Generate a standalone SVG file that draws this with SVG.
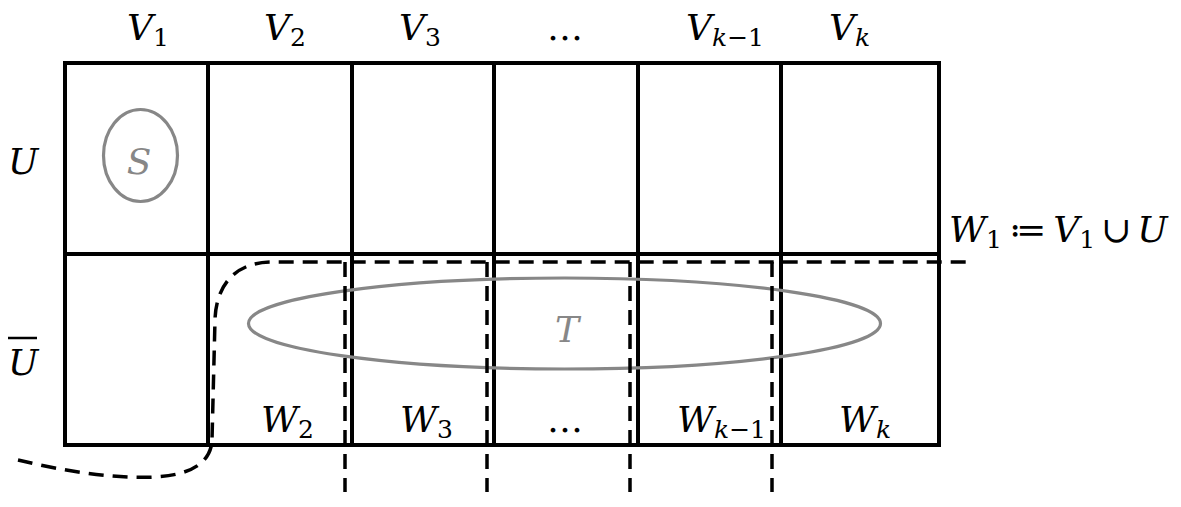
<svg xmlns="http://www.w3.org/2000/svg" width="1181" height="507" viewBox="0 0 1181 507">
<style>
.grid{fill:none;stroke:#000;stroke-width:4}
.set{fill:none;stroke:#878787;stroke-width:3.2}
.dash{fill:none;stroke:#000;stroke-width:3.5;stroke-dasharray:15 9}
.m{font-family:"DejaVu Serif","Liberation Serif",serif;font-size:36px;fill:#000}
.i{font-style:italic}
.sub{font-size:25px;font-style:normal}
.subi{font-size:25px;font-style:italic}
.op{font-size:36px;font-style:normal}
.g{fill:#878787}
</style>
<rect width="1181" height="507" fill="#fff"/>
<g id="grid">
<rect class="grid" x="65" y="63" width="874" height="382"/>
<line class="grid" x1="65" y1="254" x2="939" y2="254"/>
<line class="grid" x1="208" y1="63" x2="208" y2="445"/>
<line class="grid" x1="352" y1="63" x2="352" y2="445"/>
<line class="grid" x1="494" y1="63" x2="494" y2="445"/>
<line class="grid" x1="638" y1="63" x2="638" y2="445"/>
<line class="grid" x1="781" y1="63" x2="781" y2="445"/>
</g>
<g id="headers">
<text class="m i" x="127" y="40">V<tspan class="sub" dy="6">1</tspan></text>
<text class="m i" x="264" y="40">V<tspan class="sub" dy="6">2</tspan></text>
<text class="m i" x="399" y="40">V<tspan class="sub" dy="6">3</tspan></text>
<text class="m" x="565" y="40" text-anchor="middle">…</text>
<text class="m i" x="686" y="40">V<tspan class="subi" dy="6">k</tspan><tspan class="sub">−1</tspan></text>
<text class="m i" x="829" y="40">V<tspan class="subi" dy="6">k</tspan></text>
<text class="m i" x="8" y="174">U</text>
<text class="m i" x="8" y="375">U</text>
<line x1="8" y1="338" x2="37" y2="338" stroke="#000" stroke-width="2.5"/>
</g>
<g id="S">
<ellipse class="set" cx="140.5" cy="155.5" rx="37" ry="46"/>
<text class="m i g" x="139" y="174" text-anchor="middle">S</text>
</g>
<g id="T">
<ellipse class="set" cx="564.5" cy="323.5" rx="316" ry="45.5"/>
<text class="m i g" x="567" y="342" text-anchor="middle">T</text>
</g>
<g id="connectors">
<path class="dash" d="M18,460 C60,470 110,479 155,477 C192,475 211,462 212,440 L215,320 C216,286 234,263 270,262 L967,262"/>
<line class="dash" x1="345" y1="262" x2="345" y2="492"/>
<line class="dash" x1="487" y1="262" x2="487" y2="492"/>
<line class="dash" x1="630" y1="262" x2="630" y2="492"/>
<line class="dash" x1="772" y1="262" x2="772" y2="492"/>
</g>
<g id="wlabels">
<text class="m i" x="261" y="432">W<tspan class="sub" dy="6">2</tspan></text>
<text class="m i" x="400" y="432">W<tspan class="sub" dy="6">3</tspan></text>
<text class="m" x="565" y="432" text-anchor="middle">…</text>
<text class="m i" x="677" y="432">W<tspan class="subi" dy="6">k</tspan><tspan class="sub">−1</tspan></text>
<text class="m i" x="839" y="432">W<tspan class="subi" dy="6">k</tspan></text>
<text class="m i" x="949" y="242">W<tspan class="sub" dy="6">1</tspan><tspan class="op" dx="7" dy="-6">≔</tspan><tspan dx="7">V</tspan><tspan class="sub" dy="6">1</tspan><tspan class="op" dx="6" dy="-6">∪</tspan><tspan dx="6">U</tspan></text>
</g>
</svg>
